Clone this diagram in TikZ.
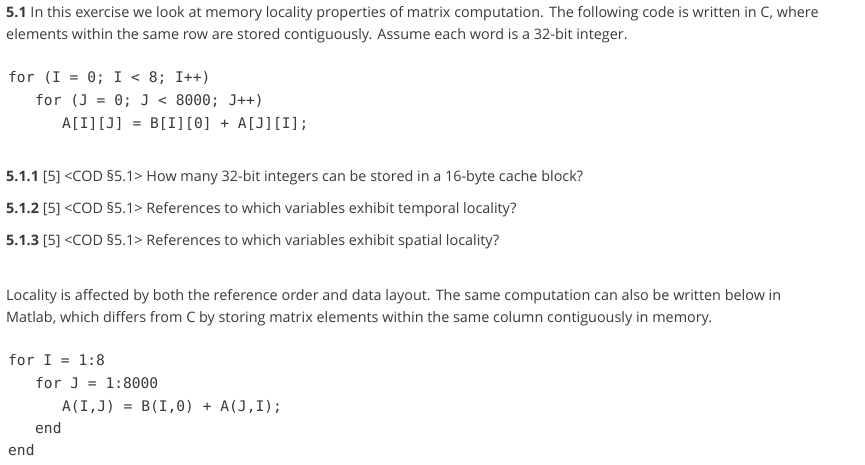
\documentclass[tikz,border=0pt]{standalone}
\usepackage{fontspec}
\setmainfont{Open Sans}
\setmonofont{DejaVu Sans Mono}
\definecolor{txt}{HTML}{3A3A3A}
\begin{document}
\begin{tikzpicture}[x=1pt,y=-1pt,
  t/.style={anchor=base west,inner sep=0pt,text=txt,font=\fontsize{14.4}{16}\selectfont},
  c/.style={anchor=base west,inner sep=0pt,text=txt,font=\ttfamily\fontsize{14.6}{16}\selectfont}]
\useasboundingbox[fill=white] (0,0) rectangle (865,465);
\node[t] (l1) at (6,18) {\textbf{5.1} In this exercise we look at memory locality properties of matrix computation. The following code is written in C, where};
\node[t] (l2) at (6,40) {elements within the same row are stored contiguously. Assume each word is a 32-bit integer.};
\node[c] (c1) at (8,83) {for (I = 0; I < 8; I++)};
\node[c] (c2) at (35,106) {for (J = 0; J < 8000; J++)};
\node[c] (c3) at (62,129) {A[I][J] = B[I][0] + A[J][I];};
\node[t] (q1) at (6,182) {\textbf{5.1.1} [5] <COD §5.1> How many 32-bit integers can be stored in a 16-byte cache block?};
\node[t] (q2) at (6,214) {\textbf{5.1.2} [5] <COD §5.1> References to which variables exhibit temporal locality?};
\node[t] (q3) at (6,246) {\textbf{5.1.3} [5] <COD §5.1> References to which variables exhibit spatial locality?};
\node[t] (p1) at (6,300) {Locality is affected by both the reference order and data layout. The same computation can also be written below in};
\node[t] (p2) at (6,322) {Matlab, which differs from C by storing matrix elements within the same column contiguously in memory.};
\node[c] (m1) at (8,365) {for I = 1:8};
\node[c] (m2) at (35,388) {for J = 1:8000};
\node[c] (m3) at (62,411) {A(I,J) = B(I,0) + A(J,I);};
\node[c] (m4) at (35,433) {end};
\node[c] (m5) at (8,455) {end};
\end{tikzpicture}
\end{document}
